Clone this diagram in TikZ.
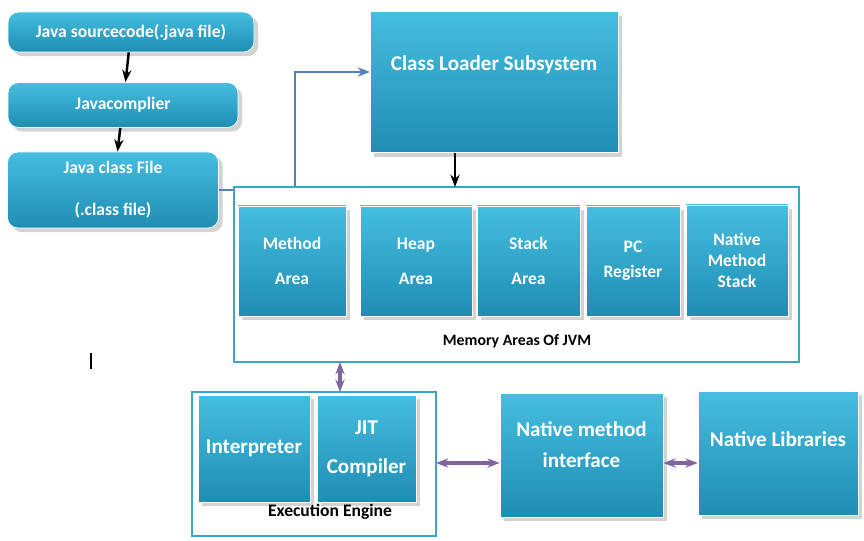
\documentclass[tikz,border=0pt]{standalone}
\usepackage{fontspec}
\setmainfont{Carlito}
\usetikzlibrary{arrows.meta,shadows}
\definecolor{boxtop}{HTML}{45BEE0}
\definecolor{boxbot}{HTML}{1F8DB3}
\definecolor{frame}{HTML}{3AA7C8}
\definecolor{link}{HTML}{4F81BD}
\definecolor{purp}{HTML}{8064A2}
\tikzset{
  blk/.style={draw=white, top color=boxtop, bottom color=boxbot, text=white,
    font=\bfseries, align=center, inner sep=0pt, drop shadow={opacity=0.35}},
  rblk/.style={blk, rounded corners=6pt},
  frm/.style={draw=frame, line width=1.2pt, fill=white},
  flowarr/.style={-{Stealth[length=7pt]}, line width=1.4pt},
  both/.style={{Stealth[length=7pt]}-{Stealth[length=7pt]}, purp, line width=2.5pt}
}
\begin{document}
\begin{tikzpicture}[x=0.02cm, y=-0.02cm]
  \useasboundingbox (0,0) rectangle (864,540);
  % left column
  \node[rblk, minimum width=246*0.02cm, minimum height=40*0.02cm] (src) at (131,32) {Java sourcecode(.java file)};
  \node[rblk, minimum width=230*0.02cm, minimum height=45*0.02cm] (comp) at (123,105) {Javacomplier};
  \node[rblk, minimum width=211*0.02cm, minimum height=76*0.02cm] (cls) at (113,190) {Java class File\\[12pt](.class file)};
  \draw[flowarr] (src) -- (comp);
  \draw[flowarr] (comp) -- (cls);
  % class loader
  \node[blk, minimum width=248*0.02cm, minimum height=141*0.02cm, font=\bfseries\large] (load) at (494,82) {\raisebox{22pt}{Class Loader Subsystem}};
  \coordinate (bend1) at (295,190);
  \coordinate (bend2) at (295,72);
  \coordinate (loadin) at (370,72);
  \draw[link, line width=1.4pt, -{Stealth[length=7pt]}] (cls.east) -- (bend1) -- (bend2) -- (loadin);
  % memory areas
  \node[frm, minimum width=565*0.02cm, minimum height=175*0.02cm] (mem) at (516.5,274.5) {};
  \draw[flowarr] (load.south -| 455,0) -- (455,187);
  \node[blk, minimum width=108*0.02cm, minimum height=110*0.02cm] (meth) at (292,261) {Method\\[8pt]Area};
  \node[blk, minimum width=112*0.02cm, minimum height=110*0.02cm] (heap) at (416,261) {Heap\\[8pt]Area};
  \node[blk, minimum width=103*0.02cm, minimum height=110*0.02cm] (stack) at (528.5,261) {Stack\\[8pt]Area};
  \node[blk, minimum width=94*0.02cm, minimum height=110*0.02cm] (pc) at (633,261) {PC\\[2pt]Register};
  \node[blk, minimum width=102*0.02cm, minimum height=111*0.02cm] (nms) at (737,260.5) {Native\\Method\\Stack};
  \node[font=\bfseries\small] (memlbl) at (517,341) {Memory Areas Of JVM};
  \draw[line width=0.8pt] (91,353) -- (91,369);
  % execution engine
  \node[frm, minimum width=244*0.02cm, minimum height=144*0.02cm] (exe) at (314,464) {};
  \node[blk, minimum width=112*0.02cm, minimum height=107*0.02cm, font=\bfseries\large] (interp) at (254,448.5) {Interpreter};
  \node[blk, minimum width=99*0.02cm, minimum height=107*0.02cm, font=\bfseries\large] (jit) at (366.5,448.5) {JIT\\[8pt]Compiler};
  \node[font=\bfseries] (exelbl) at (330,512) {Execution Engine};
  \node[blk, minimum width=163*0.02cm, minimum height=124*0.02cm, font=\bfseries\large] (nmi) at (581.5,455) {\raisebox{12pt}{\shortstack{Native method\\[6pt]interface}}};
  \node[blk, minimum width=160*0.02cm, minimum height=124*0.02cm, font=\bfseries\large] (nlib) at (778,453) {\raisebox{16pt}{Native Libraries}};
  \draw[both] (340,362) -- (340,392);
  \draw[both] (436,463) -- (nmi.west |- 0,463);
  \draw[both] (nmi.east |- 0,463) -- (nlib.west |- 0,463);
\end{tikzpicture}
\end{document}
